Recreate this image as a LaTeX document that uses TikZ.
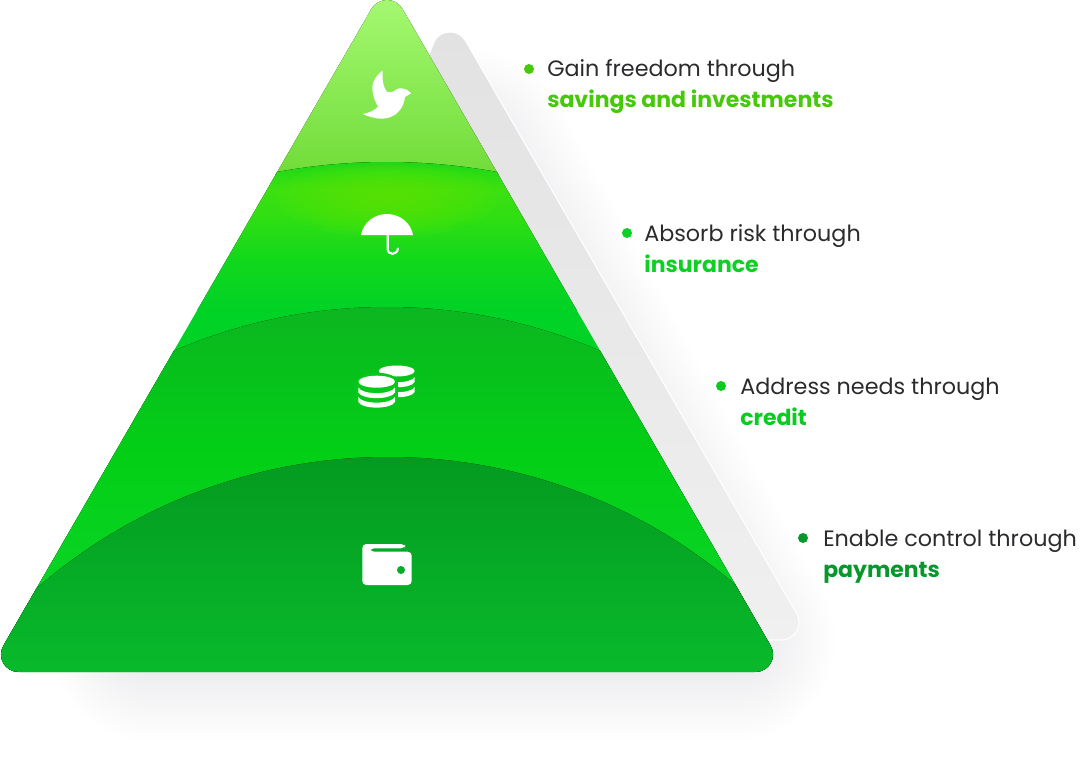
\documentclass[tikz,border=0pt]{standalone}
\usepackage{fontspec}
\setmainfont{Poppins}
\usetikzlibrary{calc}

\definecolor{inktext}{HTML}{2B2B2E}
\definecolor{leafone}{HTML}{46C90A}
\definecolor{leaftwo}{HTML}{0CD024}
\definecolor{leafthree}{HTML}{0ACC20}
\definecolor{leaffour}{HTML}{07972A}
\definecolor{coinbg}{HTML}{05C818}
\definecolor{walletbg}{HTML}{07AC28}
\definecolor{peaktop}{HTML}{A4F870}
\definecolor{peakbottom}{HTML}{70DC38}
\definecolor{slabtop}{HTML}{E2E2E3}
\definecolor{slabbottom}{HTML}{F0F0F1}
\definecolor{glowtwo}{HTML}{6CEB00}
\definecolor{twoa}{HTML}{14D41E}
\definecolor{twob}{HTML}{26DB14}
\definecolor{twoc}{HTML}{3CE010}
\definecolor{twod}{HTML}{30DF12}
\definecolor{twoe}{HTML}{12D81C}
\definecolor{twof}{HTML}{00D226}
\definecolor{threea}{HTML}{0DB620}
\definecolor{threeb}{HTML}{07C01C}
\definecolor{threec}{HTML}{03CF16}
\definecolor{threed}{HTML}{08D322}
\definecolor{foura}{HTML}{049A20}
\definecolor{fourb}{HTML}{08BA2B}

\pgfdeclareverticalshading{bandtwo}{100bp}{
  color(0bp)=(twof);
  color(25bp)=(twof);
  color(42bp)=(twoe);
  color(57bp)=(twod);
  color(66bp)=(twoc);
  color(72bp)=(twob);
  color(75bp)=(twoa);
  color(100bp)=(twoa)}
\pgfdeclareverticalshading{bandthree}{100bp}{
  color(0bp)=(threed);
  color(40bp)=(threed);
  color(55bp)=(threec);
  color(67bp)=(threeb);
  color(75bp)=(threea);
  color(100bp)=(threea)}

% corners are arcs of radius 18
\newcommand{\pyramidpath}{(371.4,9) .. controls (378.3,-3) and (395.7,-3) .. (402.6,9)
  -- (770.6,645.6) .. controls (777.5,657.6) and (768.9,672) .. (755,672)
  -- (19,672) .. controls (5.1,672) and (-3.5,657.6) .. (3.4,645.6) -- cycle}
\newcommand{\backpath}{(434.4,41) .. controls (441.3,29) and (458.7,29) .. (465.6,41)
  -- (796.6,613.6) .. controls (803.5,625.6) and (794.9,640) .. (781,640)
  -- (200,640) -- cycle}

\tikzset{
  lineone/.style={anchor=base west, text=inktext, inner sep=0pt, font=\fontsize{16.7}{20}\selectfont},
  linetwo/.style={anchor=base west, inner sep=0pt, font=\fontsize{16.5}{20}\selectfont\bfseries},
  dotmark/.style={circle, inner sep=0pt, minimum size=7.5pt}
}

\begin{document}
\begin{tikzpicture}[x=0.75pt,y=-0.75pt]
  \useasboundingbox (0,0) rectangle (1080,759);

  % soft shadow
  \foreach \w in {8,16,...,200} {
    \draw[line width=\w*0.75pt, line join=round, draw=black!85!blue, opacity=0.0055]
      (150,640) -- (735,640) -- (470,150) -- cycle;
  }

  % grey slab behind the pyramid
  \path[top color=slabtop, bottom color=slabbottom, draw=white, line width=0.8pt] \backpath;

  % pyramid bands
  \begin{scope}
    \clip \pyramidpath;
    \fill[top color=peaktop, bottom color=peakbottom] (0,0) rectangle (780,176);
    \begin{scope}
      \clip (387,766) circle (604);
      \fill[shading=bandtwo] (0,162) rectangle (780,310);
      \fill[twof] (0,309) rectangle (780,672);
      % yellow glow under the rim
      \foreach \s in {1,...,10} {
        \fill[glowtwo, opacity=0.09] (387,198) ellipse [x radius=11*\s, y radius=4*\s];
      }
    \end{scope}
    \begin{scope}
      \clip (387,846) circle (539);
      \fill[shading=bandthree] (0,307) rectangle (780,672);
    \end{scope}
    \begin{scope}
      \clip (388,993) circle (536);
      \fill[top color=foura, bottom color=fourb] (0,457) rectangle (780,672);
    \end{scope}
  \end{scope}

  % bird
  \fill[white] (382.7,70.7) .. controls (375,76) and (371,84) .. (372.7,92)
    .. controls (373.5,98) and (376,103) .. (378,106.7)
    .. controls (374,111) and (368,113) .. (362.7,114)
    .. controls (368,116.5) and (376,119) .. (383,118.7)
    .. controls (396,118) and (404,108) .. (405,97)
    -- (411,93.3) .. controls (408,90) and (405,88.5) .. (401.7,88.3)
    .. controls (398,88) and (395,90) .. (393,91.7)
    .. controls (391,92.5) and (388,92.5) .. (386.7,91.7)
    .. controls (383,87) and (382,78) .. cycle;

  % umbrella
  \fill[white] (361,235) .. controls (363,223) and (374,214) .. (387,214)
    .. controls (400,214) and (411,223) .. (413,235) -- cycle;
  \draw[white, line width=1.6pt, line cap=round] (387.7,235) -- (387.7,249)
    .. controls (387.7,255.5) and (397,255.5) .. (398,248.5);

  % coins, back stack then front stack
  \fill[white] (396.7,371) ellipse [x radius=18, y radius=5.5];
  \foreach \y in {377,387} {
    \fill[white] (378.7,\y) .. controls (383,\y+7) and (411,\y+7) .. (414.7,\y)
      -- (414.7,\y+5) .. controls (411,\y+12) and (383,\y+12) .. (378.7,\y+5) -- cycle;
  }
  \fill[coinbg] (376.7,381.7) ellipse [x radius=21, y radius=9];
  \fill[coinbg] (355.7,382) rectangle (397.7,406);
  \fill[white] (376.7,381.7) ellipse [x radius=18.3, y radius=6];
  \foreach \y in {387.5,397} {
    \fill[white] (358.4,\y) .. controls (362,\y+7.5) and (391,\y+7.5) .. (395,\y)
      -- (395,\y+5) .. controls (391,\y+12.5) and (362,\y+12.5) .. (358.4,\y+5) -- cycle;
  }

  % wallet
  \fill[white, rounded corners=3pt] (362.3,544) -- (405,544) -- (405,548.3) -- (370,548.3)
    -- (370,551.7) -- (411.7,551.7) -- (411.7,585) -- (362.3,585) -- cycle;
  \fill[walletbg] (401,570) circle (4);

  % text on the right
  \node[dotmark, fill=leafone] (dotsavings) at (529,69) {};
  \node[lineone] (gain) at (547,77) {Gain freedom through};
  \node[linetwo, text=leafone] (savings) at (547,108) {savings and investments};

  \node[dotmark, fill=leaftwo] (dotinsurance) at (627,233) {};
  \node[lineone] (absorb) at (644,241) {Absorb risk through};
  \node[linetwo, text=leaftwo] (insurance) at (644,272) {insurance};

  \node[dotmark, fill=leafthree] (dotcredit) at (721,386) {};
  \node[lineone] (address) at (740,394) {Address needs through};
  \node[linetwo, text=leafthree] (credit) at (740,425) {credit};

  \node[dotmark, fill=leaffour] (dotpayments) at (803,538) {};
  \node[lineone] (enable) at (823,546) {Enable control through};
  \node[linetwo, text=leaffour] (payments) at (823,577) {payments};
\end{tikzpicture}
\end{document}
